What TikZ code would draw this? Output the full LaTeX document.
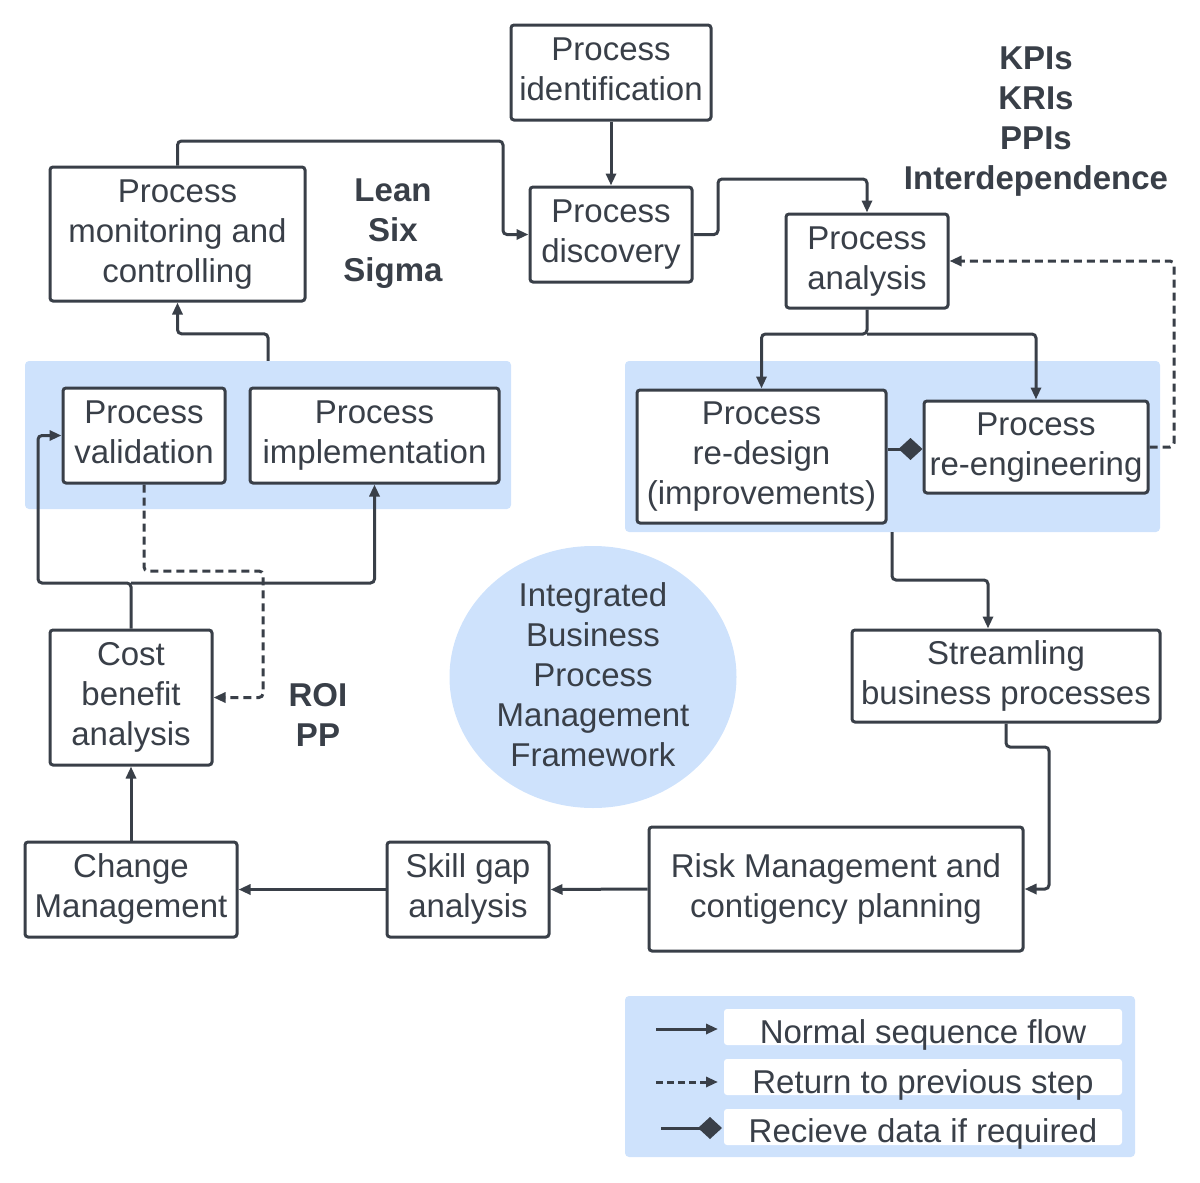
\documentclass[tikz,border=0pt]{standalone}
\usepackage{fontspec}
\setmainfont{Liberation Sans}
\usetikzlibrary{arrows.meta,shapes.geometric,calc}
\definecolor{ink}{HTML}{393F48}
\definecolor{pale}{HTML}{CEE2FC}
\begin{document}
\begin{tikzpicture}[x=1pt,y=-1pt,
  box/.style={draw=ink, line width=3pt, rounded corners=3pt, fill=white, inner sep=0pt,
    align=center, text=ink, font=\fontsize{33}{40}\selectfont},
  lbl/.style={align=center, text=ink, inner sep=0pt, font=\fontsize{33}{40}\selectfont\bfseries},
  plain/.style={align=center, text=ink, inner sep=0pt, font=\fontsize{33}{40}\selectfont},
  flow/.style={draw=ink, line width=3pt, rounded corners=4pt, -{Triangle[length=12pt,width=10pt]}},
  back/.style={flow, dash pattern=on 8pt off 5pt},
  datal/.style={draw=ink, line width=3pt, -{Diamond[length=24pt,width=22pt]}},
  grp/.style={fill=pale, rounded corners=4pt, inner sep=0pt},
  legbox/.style={fill=white, rounded corners=3pt, inner sep=0pt, minimum width=398pt, minimum height=36pt}
]
\useasboundingbox (0,0) rectangle (1200,1183);

% groups
\node[grp, minimum width=486pt, minimum height=148pt] (lgrp) at (268,435) {};
\node[grp, minimum width=535pt, minimum height=171pt] (rgrp) at (892.5,446.5) {};
\node[ellipse, fill=pale, inner sep=0pt, minimum width=287pt, minimum height=262pt] (core) at (593,677) {};
\node[plain] (coretext) at (593,678) {\strut Integrated\\\strut Business\\\strut Process\\\strut Management\\\strut Framework};

% boxes
\node[box, minimum width=200pt, minimum height=95pt] (ident) at (611,72.5) {\strut Process\\\strut identification};
\node[box, minimum width=162pt, minimum height=95pt] (disc) at (611,234.5) {\strut Process\\\strut discovery};
\node[box, minimum width=255pt, minimum height=134pt] (mon) at (177.5,234) {\strut Process\\\strut monitoring and\\\strut controlling};
\node[box, minimum width=162pt, minimum height=94pt] (anal) at (867,261) {\strut Process\\\strut analysis};
\node[box, minimum width=249pt, minimum height=133pt] (redes) at (761.5,456.5) {\strut Process\\\strut re-design\\\strut (improvements)};
\node[box, minimum width=224pt, minimum height=92pt] (reeng) at (1036,447) {\strut Process\\\strut re-engineering};
\node[box, minimum width=162pt, minimum height=95pt] (valid) at (144,435.5) {\strut Process\\\strut validation};
\node[box, minimum width=249pt, minimum height=95pt] (impl) at (374.5,435.5) {\strut Process\\\strut implementation};
\node[box, minimum width=162pt, minimum height=135pt] (cost) at (131,697.5) {\strut Cost\\\strut benefit\\\strut analysis};
\node[box, minimum width=308pt, minimum height=92pt] (stream) at (1006,676) {\strut Streamling\\\strut business processes};
\node[box, minimum width=212pt, minimum height=95pt] (change) at (131,889.5) {\strut Change\\\strut Management};
\node[box, minimum width=162pt, minimum height=95pt] (skill) at (468,889.5) {\strut Skill gap\\\strut analysis};
\node[box, minimum width=374pt, minimum height=124pt] (risk) at (836,889) {\strut Risk Management and\\\strut contigency planning};

% bold labels
\node[lbl] (lss) at (393,233) {\strut Lean\\\strut Six\\\strut Sigma};
\node[lbl] (kpi) at (1036,121) {\strut KPIs\\\strut KRIs\\\strut PPIs\\\strut Interdependence};
\node[lbl] (roi) at (318,718) {\strut ROI\\\strut PP};

% connectors
\draw[flow] (ident) -- (disc);
\coordinate (m1) at (503,141);
\draw[flow] (mon.north) |- (m1) |- (disc.west);
\coordinate (m2) at (718,179);
\draw[flow] (disc.east) -| (m2) -| (anal.north);
\coordinate (m3) at (867,334);
\draw[flow] (anal.south) -- (m3) -| (redes.north);
\draw[flow] (m3) -| (reeng.north);
\coordinate (m4) at (1174,261);
\draw[back] (reeng.east) -| (m4) -- (anal.east);
\coordinate (dstart) at ([yshift=-2pt]redes.east |- reeng.west);
\draw[datal] (dstart) -- (dstart -| reeng.west);
\coordinate (m5) at (892,580);
\coordinate (sin) at ([xshift=-18pt]stream.north);
\draw[flow] (rgrp.south -| m5) -- (m5) -| (sin);
\coordinate (m6) at (1049,747);
\draw[flow] (stream.south) |- (m6) |- (risk.east);
\draw[flow] (risk.west) -- (skill.east);
\draw[flow] (skill.west) -- (change.east);
\draw[flow] (change.north) -- (cost.south);
\coordinate (m7) at (131,583);
\coordinate (m8) at (38,583);
\draw[flow] (cost.north) -- (m7) -- (m8) |- (valid.west);
\draw[flow] (m7) -| (impl.south);
\coordinate (m9) at (263,571);
\draw[back] (valid.south) |- (m9) |- (cost.east);
\draw[flow] (lgrp.north) -- ++(0,-27) -| (mon.south);

% legend
\node[grp, minimum width=510pt, minimum height=161pt] (leg) at (880,1076.5) {};
\node[legbox] (lb1) at (923,1027) {};
\node[legbox] (lb2) at (923,1077) {};
\node[legbox] (lb3) at (923,1127) {};
\node[plain, anchor=base] (lt1) at (923,1043) {Normal sequence flow};
\node[plain, anchor=base] (lt2) at (923,1093) {Return to previous step};
\node[plain, anchor=base] (lt3) at (923,1142) {Recieve data if required};
\coordinate (a1) at (656,1029); \coordinate (b1) at (718,1029);
\coordinate (a2) at (656,1082); \coordinate (b2) at (718,1082);
\coordinate (a3) at (661,1128); \coordinate (b3) at (722,1128);
\draw[flow] (a1) -- (b1);
\draw[flow, dash pattern=on 7pt off 4pt] (a2) -- (b2);
\draw[datal] (a3) -- (b3);
\end{tikzpicture}
\end{document}
